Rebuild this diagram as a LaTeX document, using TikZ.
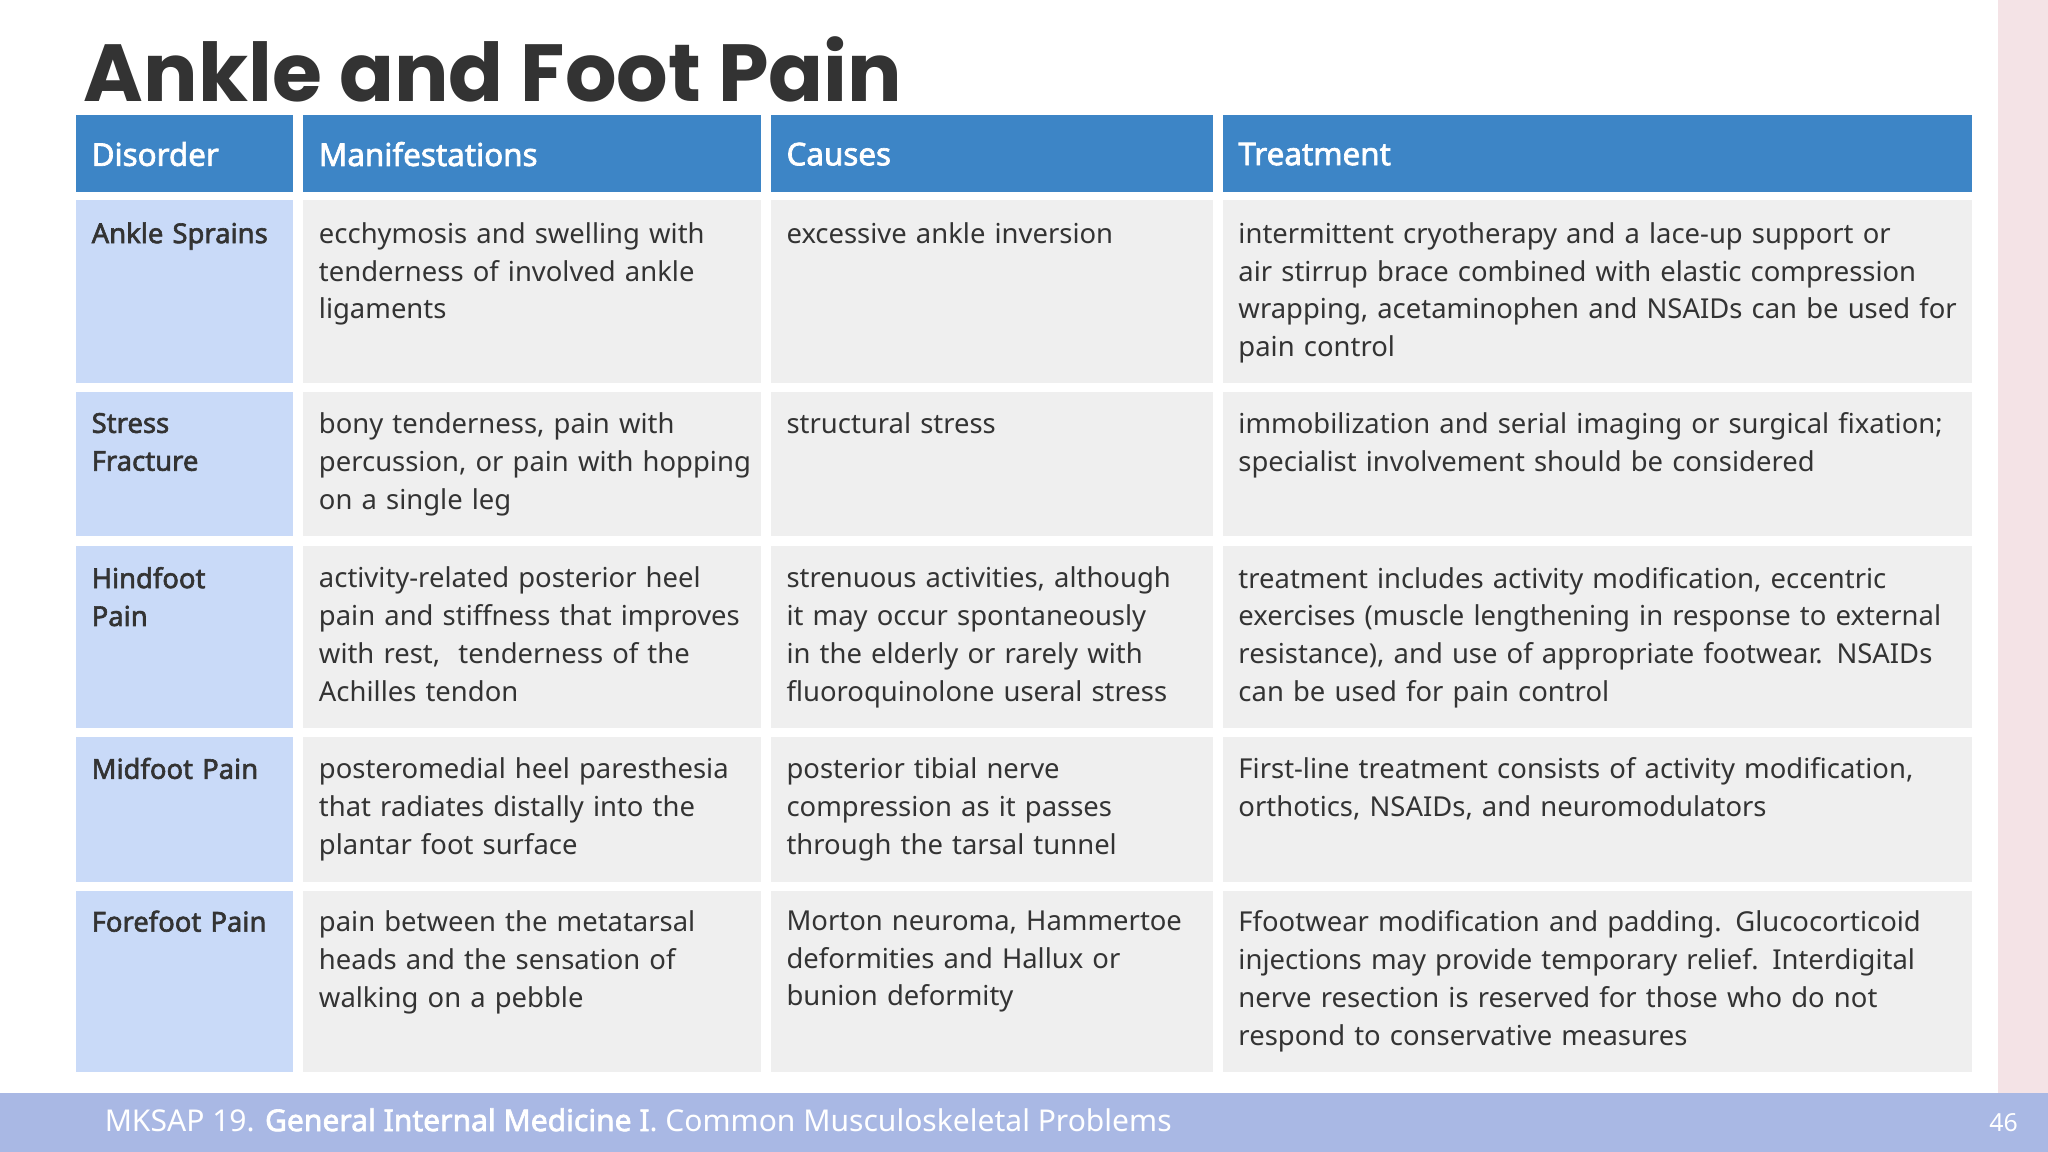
\documentclass[tikz,border=0pt]{standalone}
\usepackage{fontspec}
\setmainfont{Noto Sans}[BoldFont={Noto Sans},BoldFeatures={FakeBold=2.2}]
\newfontfamily\titlefont{Poppins}
\hyphenpenalty=10000
\exhyphenpenalty=10000
\definecolor{hdr}{HTML}{3D85C6}
\definecolor{first}{HTML}{C9DAF8}
\definecolor{cellg}{HTML}{EFEFEF}
\definecolor{foot}{HTML}{A9B8E4}
\definecolor{pinks}{HTML}{F4E3E6}
\definecolor{txt}{HTML}{333333}
\begin{document}
\begin{tikzpicture}[x=1pt,y=-1pt,
  cell/.style={anchor=north west,inner sep=0pt,align=left,text=txt,font=\fontsize{21}{29}\selectfont},
  hcell/.style={anchor=west,inner sep=0pt,text=white,font=\fontsize{24}{30}\selectfont\bfseries}]
\useasboundingbox (0,0) rectangle (1568,882);
\fill[white] (0,0) rectangle (1568,882);
\fill[pinks] (1530,0) rectangle (1568,837);
\fill[foot] (0,837) rectangle (1568,882);
\node[anchor=base west,inner sep=0pt,text=txt,font=\fontsize{62}{66}\selectfont\titlefont\bfseries] (title) at (64,78) {Ankle and Foot Pain};
\foreach \a/\b in {58/224,232/583,590/929,936/1510}{\fill[hdr] (\a,88) rectangle (\b,147);}
\node[hcell] (h1) at (70,118) {Disorder};
\node[hcell] (h2) at (244,118) {Manifestations};
\node[hcell] (h3) at (602,118) {Causes};
\node[hcell] (h4) at (948,118) {Treatment};
\foreach \t/\e in {153/293,300/410,418/557,564/675,682/821}{
  \fill[first] (58,\t) rectangle (224,\e);
  \foreach \a/\b in {232/583,590/929,936/1510}{\fill[cellg] (\a,\t) rectangle (\b,\e);}
}
\newcommand\myrow[6]{%
 \node[cell,text width=152,font=\fontsize{21}{29}\selectfont\bfseries] (#1a) at (70,#2) {#3};
 \node[cell,text width=332] (#1b) at (244,#2) {#4};
 \node[cell,text width=322] (#1c) at (602,#2) {#5};
 \node[cell,text width=555] (#1d) at (948,#2) {#6};}
\myrow{r1}{170}{Ankle Sprains}{ecchymosis and swelling with tenderness of involved ankle ligaments}{excessive ankle inversion}{intermittent cryotherapy and a lace-up support or air stirrup brace combined with elastic compression wrapping, acetaminophen and NSAIDs can be used for pain control}
\myrow{r2}{316}{Stress\\Fracture}{bony tenderness, pain with percussion, or pain with hopping on a single leg}{structural stress}{immobilization and serial imaging or surgical fixation; specialist involvement should be considered}
\myrow{r3}{434}{Hindfoot\\Pain}{activity-related posterior heel pain and stiffness that improves with rest,\ \ tenderness of the Achilles tendon}{strenuous activities, although it may occur spontaneously in the elderly or rarely with fluoroquinolone useral stress}{treatment includes activity modification, eccentric exercises (muscle lengthening in response to external resistance), and use of appropriate footwear. NSAIDs can be used for pain control}
\myrow{r4}{580}{Midfoot Pain}{posteromedial heel paresthesia that radiates distally into the plantar foot surface}{posterior tibial nerve compression as it passes through the tarsal tunnel}{First-line treatment consists of activity modification, orthotics, NSAIDs, and neuromodulators}
\myrow{r5}{697}{Forefoot Pain}{pain between the metatarsal heads and the sensation of walking on a pebble}{Morton neuroma, Hammertoe deformities and Hallux or bunion deformity}{Ffootwear modification and padding. Glucocorticoid injections may provide temporary relief. Interdigital nerve resection is reserved for those who do not respond to conservative measures}
\node[anchor=base west,inner sep=0pt,text=white,font=\fontsize{23}{28}\selectfont] (ft) at (80,866) {MKSAP 19. \textbf{General Internal Medicine I}. Common Musculoskeletal Problems};
\node[anchor=base east,inner sep=0pt,text=white,font=\fontsize{19}{24}\selectfont] (pg) at (1545,866) {46};
\end{tikzpicture}
\end{document}
